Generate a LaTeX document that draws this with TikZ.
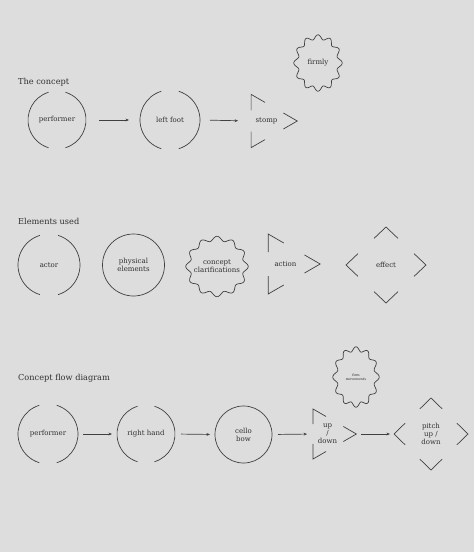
\documentclass[tikz,border=0pt]{standalone}
\usepackage{fontspec}
\setmainfont{DejaVu Serif}
\usetikzlibrary{shapes.geometric,arrows.meta,calc}

\definecolor{paper}{HTML}{DDDDDD}
\definecolor{ink}{HTML}{404040}
\definecolor{type}{HTML}{303030}

% circle open at top and bottom
\newcommand{\splitring}[2]{%
  \draw[outline] (#1.107) arc[start angle=107, end angle=253, radius=#2];
  \draw[outline] (#1.-73) arc[start angle=-73, end angle=73, radius=#2];}
% only the corners of a triangle
\newcommand{\cornertri}[1]{%
  \foreach \c/\a/\b in {1/2/3, 2/3/1, 3/1/2}
    \draw[outline] ($(#1.corner \c)!.3!(#1.corner \a)$) -- (#1.corner \c) -- ($(#1.corner \c)!.3!(#1.corner \b)$);}
% only the corners of a diamond
\newcommand{\cornerdiamond}[1]{%
  \foreach \c/\a/\b in {north/west/east, east/north/south, south/east/west, west/south/north}
    \draw[outline] ($(#1.\c)!.3!(#1.\a)$) -- (#1.\c) -- ($(#1.\c)!.3!(#1.\b)$);}
% wavy outline
\newcommand{\wavyring}[3]{%
  \draw[outline, shift={(#1.center)}] plot[domain=0:360, samples=241, smooth]
    ({(#2+2.2*cos(12*\x))*cos(\x)}, {(#3+2.2*cos(12*\x))*sin(\x)}) -- cycle;}

\begin{document}
\begin{tikzpicture}[x=1pt,y=1pt,
    outline/.style={draw=ink, line width=0.7pt},
    flow/.style={draw=ink, line width=0.7pt, -{Stealth[length=3.5pt,width=2.8pt]}},
    ring/.style={circle, inner sep=0pt, outer sep=0pt, align=center},
    tri/.style={regular polygon, regular polygon sides=3, shape border rotate=-90,
      inner sep=0pt, outer sep=0pt, align=center},
    rhomb/.style={diamond, inner sep=0pt, outer sep=0pt, align=center},
    puff/.style={circle, inner sep=0pt, align=center},
    every node/.style={text=type, font=\fontsize{7}{8}\selectfont},
    heading/.style={anchor=base west, inner sep=0pt, font=\fontsize{8.2}{10}\selectfont}]
  \fill[paper] (0,0) rectangle (474,-552);
  \useasboundingbox (0,0) rectangle (474,-552);

  % the concept
  \node[heading] (title1) at (18,-84) {The concept};
  \node[ring, minimum size=58pt] (perf1) at (57,-120) {performer};
  \node[ring, minimum size=60pt] (foot) at (170,-120) {left foot};
  \node[tri, minimum size=57.7pt] (stomp) at (266.5,-121) {stomp};
  \node[puff] (firmly) at (318,-63) {firmly};
  \splitring{perf1}{29}
  \splitring{foot}{30}
  \cornertri{stomp}
  \wavyring{firmly}{22}{26}
  \draw[flow, shorten <=13pt, shorten >=11pt] (perf1.east) -- (foot.west);
  \draw[flow, shorten <=10pt, shorten >=13pt] (foot.east) -- (stomp.west);

  % elements used
  \node[heading] (title2) at (18,-224) {Elements used};
  \node[ring, minimum size=62pt] (actor) at (49,-265) {actor};
  \node[ring, outline, minimum size=62pt] (phys) at (133.5,-265) {physical\\elements};
  \node[puff] (clar) at (217,-266.5) {concept\\clarifications};
  \node[tri, minimum size=69.3pt] (action) at (285.5,-264) {action};
  \node[rhomb, minimum width=80pt, minimum height=76pt] (effect) at (386,-265) {effect};
  \splitring{actor}{31}
  \wavyring{clar}{29}{28}
  \cornertri{action}
  \cornerdiamond{effect}

  % concept flow diagram
  \node[heading] (title3) at (18,-380) {Concept flow diagram};
  \node[ring, minimum size=60pt] (perf2) at (48,-434) {performer};
  \node[ring, minimum size=58pt] (hand) at (146,-434) {right hand};
  \node[ring, outline, minimum size=57pt] (bow) at (243.5,-434.5) {cello\\bow};
  \node[tri, minimum size=57.7pt] (updown) at (327.5,-434) {up\\/\\down};
  \node[puff, font=\fontsize{3.5}{4.5}\selectfont] (firm) at (356,-377) {firm\\movements};
  \node[rhomb, minimum width=74pt, minimum height=72pt] (pitch) at (431,-434) {pitch\\up /\\down};
  \splitring{perf2}{30}
  \splitring{hand}{29}
  \cornertri{updown}
  \wavyring{firm}{21}{28}
  \cornerdiamond{pitch}
  \draw[flow, shorten <=5pt, shorten >=5pt] (perf2.east) -- (hand.west);
  \draw[flow, shorten <=6pt, shorten >=5pt] (hand.east) -- (bow.west);
  \draw[flow, shorten <=6pt, shorten >=6pt] (bow.east) -- (updown.west);
  \draw[flow, shorten <=5pt, shorten >=4pt] (updown.corner 1) -- (pitch.west);
\end{tikzpicture}
\end{document}
